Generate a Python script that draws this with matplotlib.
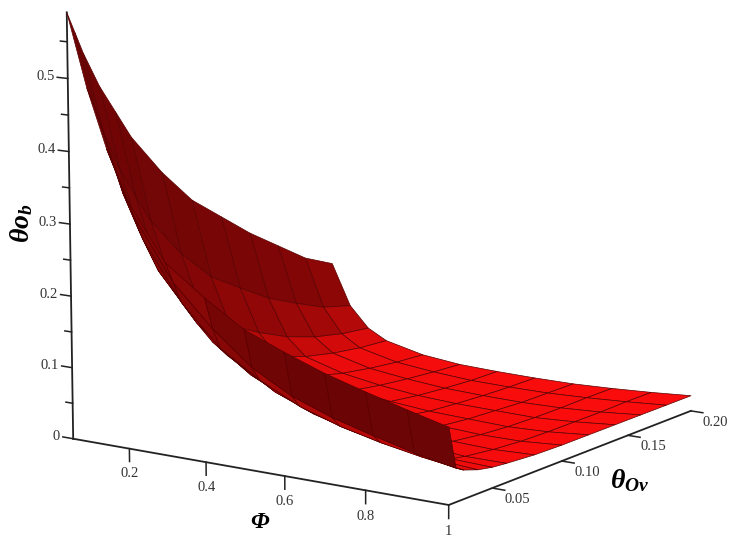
import numpy as np
import matplotlib
matplotlib.use("Agg")
import matplotlib.pyplot as plt
from mpl_toolkits.mplot3d import proj3d

plt.rcParams['font.family'] = ['Liberation Serif', 'DejaVu Serif']
plt.rcParams['mathtext.fontset'] = 'custom'
plt.rcParams['mathtext.rm'] = 'Liberation Serif'
plt.rcParams['mathtext.it'] = 'Liberation Serif:italic:bold'

# grid of the surface
phi = np.array([0.05, 0.1, 0.15, 0.2, 0.3, 0.4, 0.5, 0.6, 0.7, 0.8, 0.9, 1.0])
theta_ov = np.array([0.02, 0.025, 0.03, 0.04, 0.05, 0.06, 0.08, 0.10,
                     0.12, 0.14, 0.16, 0.18, 0.20])

# theta_ob, one row per theta_ov value, one column per phi value
theta_ob = np.array([
    [0.590, 0.490, 0.410, 0.345, 0.265, 0.225, 0.190, 0.168, 0.148, 0.132, 0.117, 0.103],
    [0.560, 0.460, 0.380, 0.318, 0.235, 0.180, 0.135, 0.105, 0.085, 0.070, 0.056, 0.045],
    [0.530, 0.426, 0.344, 0.285, 0.205, 0.150, 0.115, 0.088, 0.070, 0.057, 0.047, 0.039],
    [0.480, 0.370, 0.287, 0.235, 0.170, 0.125, 0.092, 0.070, 0.055, 0.044, 0.036, 0.032],
    [0.440, 0.327, 0.244, 0.200, 0.138, 0.100, 0.074, 0.057, 0.045, 0.037, 0.030, 0.028],
    [0.400, 0.286, 0.206, 0.165, 0.112, 0.080, 0.060, 0.047, 0.037, 0.031, 0.026, 0.026],
    [0.340, 0.228, 0.154, 0.118, 0.078, 0.055, 0.042, 0.033, 0.027, 0.023, 0.021, 0.023],
    [0.290, 0.183, 0.117, 0.085, 0.056, 0.040, 0.031, 0.025, 0.021, 0.018, 0.018, 0.022],
    [0.255, 0.155, 0.094, 0.063, 0.043, 0.031, 0.024, 0.019, 0.017, 0.015, 0.017, 0.022],
    [0.220, 0.128, 0.075, 0.050, 0.034, 0.025, 0.019, 0.016, 0.015, 0.014, 0.017, 0.022],
    [0.190, 0.108, 0.062, 0.042, 0.028, 0.021, 0.016, 0.014, 0.013, 0.014, 0.017, 0.022],
    [0.160, 0.090, 0.054, 0.037, 0.024, 0.018, 0.014, 0.013, 0.013, 0.015, 0.018, 0.022],
    [0.140, 0.080, 0.050, 0.035, 0.022, 0.016, 0.014, 0.013, 0.013, 0.015, 0.018, 0.022],
])

z_ticks = [0, 0.1, 0.2, 0.3, 0.4, 0.5]
z_labels = ["0", "0.1", "0.2", "0.3", "0.4", "0.5"]
z_minor = [0.05, 0.15, 0.25, 0.35, 0.45, 0.55]
phi_ticks = [0.2, 0.4, 0.6, 0.8, 1.0]
phi_labels = ["0.2", "0.4", "0.6", "0.8", "1"]
tov_ticks = [0.05, 0.10, 0.15, 0.20]
tov_labels = ["0.05", "0.10", "0.15", "0.20"]

ELEV, AZIM = 11, -55.6
xlo, xhi = phi[0], phi[-1]
ylo, yhi = theta_ov[0], theta_ov[-1]
zlo, zhi = 0.0, 0.59

fig = plt.figure(figsize=(7.36, 5.39), dpi=100)
ax = fig.add_axes([-0.139, -0.1204, 1.30, 1.40], projection='3d')
ax.view_init(elev=ELEV, azim=AZIM)
ax.set_proj_type('persp', focal_length=1.0)
ax.set_xlim(xlo, xhi)
ax.set_ylim(ylo, yhi)
ax.set_zlim(zlo, zhi)
ax.set_box_aspect((1, 1, 0.955), zoom=0.985)
ax.set_xticks([])
ax.set_yticks([])
ax.set_zticks([])
ax.set_axis_off()
for t in (ax.title, ax._left_title, ax._right_title):
    t.set_visible(False)
for a in (ax.xaxis, ax.yaxis, ax.zaxis):
    a.label.set_visible(False)
    a.offsetText.set_visible(False)

P, T = np.meshgrid(phi, theta_ov)

# panel shading from a light above the surface
xn = (P - xlo) / (xhi - xlo)
yn = (T - ylo) / (yhi - ylo)
zn = theta_ob / (zhi - zlo)
gx = np.diff(zn, axis=1)[:-1, :] / np.diff(xn, axis=1)[:-1, :]
gy = np.diff(zn, axis=0)[:, :-1] / np.diff(yn, axis=0)[:, :-1]
light = np.array([-0.15, -0.25, 1.0])
light = light / np.linalg.norm(light)
n = np.stack([-gx, -gy, np.ones_like(gx)], axis=-1)
n = n / np.linalg.norm(n, axis=-1, keepdims=True)
lum = np.clip(n @ light, 0, 1)

cols = np.zeros(theta_ob.shape + (4,))
cols[:-1, :-1, 0] = 0.42 + 0.58 * lum
cols[:-1, :-1, 1] = 0.02 + 0.03 * lum
cols[:-1, :-1, 2] = 0.02 + 0.03 * lum
cols[..., 3] = 1.0

ax.plot_surface(P, T, theta_ob, facecolors=cols, edgecolor=(0.35, 0.0, 0.0),
                linewidth=0.5, shade=False, antialiased=True)

axis_kw = dict(color='#222222', lw=1.3)
ax.plot([xlo, xhi], [ylo, ylo], [0, 0], **axis_kw)
ax.plot([xlo, xlo], [ylo, ylo], [zlo, zhi], **axis_kw)
ax.plot([xhi, xhi], [ylo, yhi], [0, 0], **axis_kw)

tk = dict(color='#222222', lw=1.1)
for zt in z_ticks:
    ax.plot([xlo - 0.028, xlo], [ylo, ylo], [zt, zt], **tk)
for zt in z_minor:
    ax.plot([xlo - 0.018, xlo], [ylo, ylo], [zt, zt], **tk)
for pt in phi_ticks:
    ax.plot([pt, pt], [ylo, ylo], [0, -0.018], **tk)
for tt in tov_ticks:
    ax.plot([xhi, xhi + 0.03], [tt, tt], [0, 0], **tk)

# tick labels: project the 3d anchor points, then place flat texts
fig.canvas.draw()
M = ax.get_proj()
lab = dict(fontsize=10.5, color='#333333', transform=ax.transData)


def put(x, y, z, s, **kw):
    px, py, _ = proj3d.proj_transform(x, y, z, M)
    ax.text2D(px, py, s, **kw, **lab)


for zt, zl in zip(z_ticks, z_labels):
    put(xlo - 0.035, ylo, zt, zl, ha='right', va='center')
for pt, pl in zip(phi_ticks, phi_labels):
    put(pt, ylo, -0.026, pl, ha='center', va='top')
for tt, tl in zip(tov_ticks, tov_labels):
    put(xhi + 0.03, tt, -0.004, tl, ha='left', va='top')

fig.text(0.03, 0.585, r'$\theta o_b$', rotation=90, fontsize=20,
         ha='center', va='center')
fig.text(0.353, 0.03, 'Φ', fontsize=17, style='italic', weight='bold',
         ha='center', va='center')
fig.text(0.856, 0.108, r'$\theta_{Ov}$', fontsize=20, ha='center', va='center')

fig.savefig('out.png', dpi=100)
